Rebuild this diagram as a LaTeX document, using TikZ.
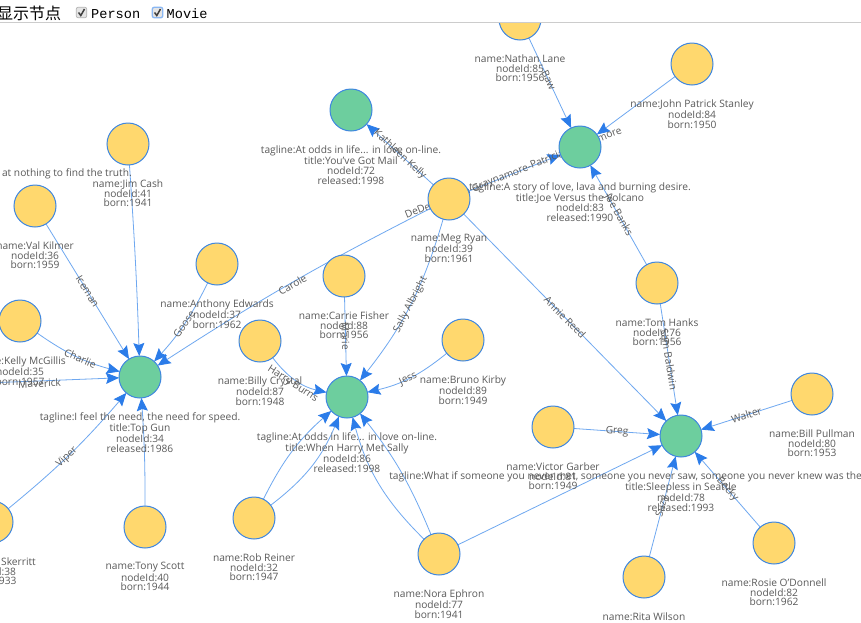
\documentclass[tikz,border=0pt]{standalone}
\usepackage{fontspec}
\setmainfont{Open Sans}
\setmonofont{Liberation Mono}
\newfontfamily\cjkfont{Noto Sans CJK SC}
\usetikzlibrary{arrows.meta,backgrounds}
\definecolor{edgeblue}{HTML}{6FA8F0}
\definecolor{tipblue}{HTML}{2B7CE9}
\definecolor{ringblue}{HTML}{3E86E0}
\definecolor{personfill}{HTML}{FFD86E}
\definecolor{moviefill}{HTML}{6DCE9E}
\definecolor{inktext}{HTML}{5A5A5A}
\tikzset{
  x=1pt,y=-1pt,
  personnode/.style={circle,draw=ringblue,line width=1pt,fill=personfill,minimum size=42pt,inner sep=0pt,outer sep=0pt},
  movienode/.style={circle,draw=ringblue,line width=1pt,fill=moviefill,minimum size=42pt,inner sep=0pt,outer sep=0pt},
  infotext/.style={text=inktext,align=center,inner sep=0pt,anchor=north,font=\fontsize{10.2}{9.8}\selectfont},
  edgeline/.style={draw=edgeblue,line width=0.8pt,-{Stealth[length=13pt,width=11pt,inset=2pt,color=tipblue]}},
  edgetag/.style={text=inktext,inner sep=0pt,sloped,font=\fontsize{10.2}{10}\selectfont},
  topbar/.style={font=\fontsize{13.6}{13.6}\ttfamily,inner sep=0pt,anchor=west},
  tickbox/.style={draw=gray!60,fill=gray!20,rounded corners=2pt,minimum size=10.5pt,inner sep=0pt,line width=0.7pt},
  tickmark/.style={line width=1.5pt,draw=black!75},
}
\newcommand{\pnode}[4]{\node[personnode] (#1) at (#2,#3) {};\node[infotext] (#1t) at (#2,#3+35.3) {#4};}
\newcommand{\mnode}[4]{\node[movienode] (#1) at (#2,#3) {};\node[infotext] (#1t) at (#2,#3+35.3) {#4};}
\begin{document}
\begin{tikzpicture}
\useasboundingbox (0,0) rectangle (861,622);
% movies
\mnode{topgun}{140}{377}{tagline:I feel the need, the need for speed.\\title:Top Gun\\nodeId:34\\released:1986}
\mnode{harry}{347}{397}{tagline:At odds in life... in love on-line.\\title:When Harry Met Sally\\nodeId:86\\released:1998}
\mnode{joe}{580}{147}{tagline:A story of love, lava and burning desire.\\title:Joe Versus the Volcano\\nodeId:83\\released:1990}
\mnode{mail}{351}{110}{tagline:At odds in life... in love on-line.\\title:You've Got Mail\\nodeId:72\\released:1998}
\mnode{sleep}{681}{436}{tagline:What if someone you never met, someone you never saw, someone you never knew was the only someone for you?\\title:Sleepless in Seattle\\nodeId:78\\released:1993}
% people
\pnode{nathan}{520}{19}{name:Nathan Lane\\nodeId:85\\born:1956}
\pnode{john}{692}{64}{name:John Patrick Stanley\\nodeId:84\\born:1950}
\pnode{meg}{449}{199}{name:Meg Ryan\\nodeId:39\\born:1961}
\pnode{tom}{657}{283}{name:Tom Hanks\\nodeId:76\\born:1956}
\pnode{jim}{128}{144}{name:Jim Cash\\nodeId:41\\born:1941}
\pnode{val}{35}{206}{name:Val Kilmer\\nodeId:36\\born:1959}
\pnode{anthony}{217}{264}{name:Anthony Edwards\\nodeId:37\\born:1962}
\pnode{carrie}{344}{276}{name:Carrie Fisher\\nodeId:88\\born:1956}
\pnode{kelly}{20}{321}{name:Kelly McGillis\\nodeId:35\\born:1957}
\pnode{billy}{260}{341}{name:Billy Crystal\\nodeId:87\\born:1948}
\pnode{bruno}{463}{340}{name:Bruno Kirby\\nodeId:89\\born:1949}
\pnode{victor}{553}{427}{name:Victor Garber\\nodeId:81\\born:1949}
\pnode{bill}{812}{394}{name:Bill Pullman\\nodeId:80\\born:1953}
\pnode{skerritt}{-8}{522}{name:Tom Skerritt\\nodeId:38\\born:1933}
\pnode{tony}{145}{527}{name:Tony Scott\\nodeId:40\\born:1944}
\pnode{rob}{254}{518}{name:Rob Reiner\\nodeId:32\\born:1947}
\pnode{nora}{439}{554}{name:Nora Ephron\\nodeId:77\\born:1941}
\pnode{rita}{644}{577}{name:Rita Wilson}
\pnode{rosie}{774}{543}{name:Rosie O'Donnell\\nodeId:82\\born:1962}
\coordinate (cruise) at (-40,384);
\node[infotext,anchor=east] (fewgood) at (132,174) {at nothing to find the truth.};
\begin{pgfonlayer}{background}
\fill[white] (0,0) rectangle (861,622);
\draw[edgeline] (nathan) -- node[edgetag,pos=0.47] {Baw} (joe);
\draw[edgeline] (john) -- (joe);
\draw[edgeline] (tom) -- node[edgetag] {Joe Banks} (joe);
\draw[edgeline] (meg) -- node[edgetag,pos=0.49] {DeDe-Angelica Graynamore-Patricia Graynamore} (joe);
\draw[edgeline] (meg) -- node[edgetag] {Kathleen Kelly} (mail);
\draw[edgeline] (meg) to[bend right=3] node[edgetag,yshift=-2pt] {Carole} (topgun);
\draw[edgeline] (meg) to[bend left=11] node[edgetag] {Sally Albright} (harry);
\draw[edgeline] (meg) -- node[edgetag] {Annie Reed} (sleep);
\draw[edgeline] (jim) to[bend left=1] (topgun);
\draw[edgeline] (val) -- node[edgetag] {Iceman} (topgun);
\draw[edgeline] (anthony) to[bend left=8] node[edgetag] {Goose} (topgun);
\draw[edgeline] (kelly) to[bend right=10] node[edgetag,pos=0.55] {Charlie} (topgun);
\draw[edgeline] (cruise) -- node[edgetag,pos=0.5,yshift=-2.5pt] {Maverick} (topgun);
\draw[edgeline] (skerritt) to[bend right=5] node[edgetag,pos=0.47] {Viper} (topgun);
\draw[edgeline] (tony) to[bend right=2] (topgun);
\draw[edgeline] (carrie) -- node[edgetag] {Marie} (harry);
\draw[edgeline] (billy) to[bend right=20] node[edgetag,xshift=-1pt,yshift=-5pt] {Harry Burns} (harry);
\draw[edgeline] (bruno) to[bend left=13] node[edgetag,pos=0.52] {Jess} (harry);
\draw[edgeline] (rob) to[bend left=11] (harry);
\draw[edgeline] (rob) to[bend right=15] (harry);
\draw[edgeline] (nora) to[bend left=15] (harry);
\draw[edgeline] (nora) to[bend right=8] (harry);
\draw[edgeline] (nora) -- (sleep);
\draw[edgeline] (tom) -- node[edgetag] {Sam Baldwin} (sleep);
\draw[edgeline] (bill) -- node[edgetag] {Walter} (sleep);
\draw[edgeline] (victor) -- node[edgetag] {Greg} (sleep);
\draw[edgeline] (rita) -- node[edgetag] {Suzy} (sleep);
\draw[edgeline] (rosie) -- node[edgetag] {Becky} (sleep);
\end{pgfonlayer}
% header
\fill[white] (0,0) rectangle (861,22);
\draw[gray!40,line width=0.8pt] (0,22.5) -- (861,22.5);
\node[font=\fontsize{16}{16}\cjkfont,inner sep=0pt,anchor=west] (title) at (-3,13) {显示节点};
\node[tickbox] (boxa) at (81.5,12.5) {};
\draw[tickmark] (78.5,12.5) -- (80.8,15.5) -- (84.5,9);
\node[topbar] (labela) at (91,14) {Person};
\node[tickbox,draw=tipblue!55,line width=1.3pt] (boxb) at (157.5,12.5) {};
\draw[tickmark] (154.5,12.5) -- (156.8,15.5) -- (160.5,9);
\node[topbar] (labelb) at (166.5,14) {Movie};
\end{tikzpicture}
\end{document}
